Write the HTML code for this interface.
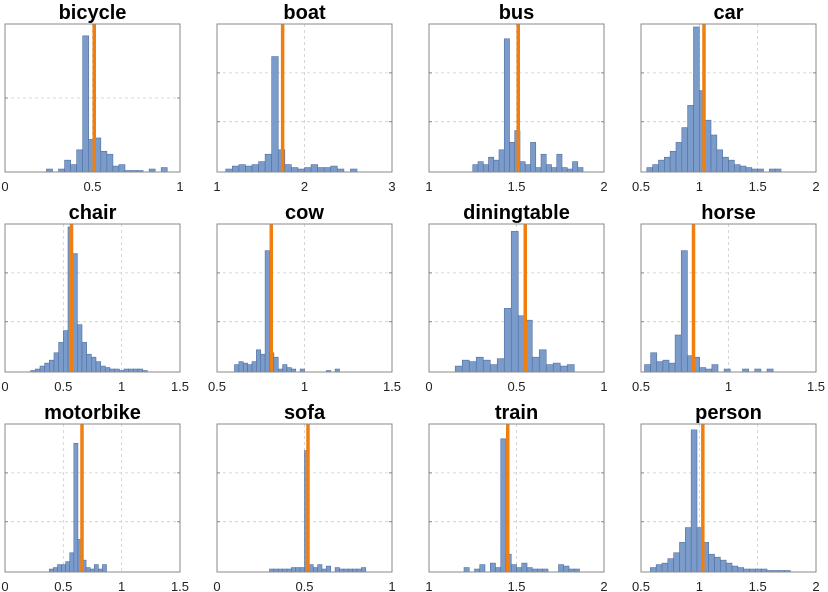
<!DOCTYPE html>
<html><head><meta charset="utf-8"><style>
body{margin:0;background:#fff;width:828px;height:592px;overflow:hidden}
svg{display:block}
text{font-family:"Liberation Sans",sans-serif}
</style></head><body>
<svg id="s" width="828" height="592" xmlns="http://www.w3.org/2000/svg"></svg>
<script>
var P=[
["bicycle",0,1,[0,0.5,1],0.51,[0.5],0.237,0.0345,[.02,0,.02,.08,.05,.15,.92,.22,.23,.14,.12,.04,.05,.01,.01,.01,0,.02,0,.03,0,0]],
["boat",1,3,[1,2,3],1.75,[0.33,0.66],1.1,0.075,[.02,.04,.05,.04,.05,.07,.12,.78,.15,.05,.03,.02,.03,.05,.03,.03,.04,.02,0,.02]],
["bus",1,2,[1,1.5,2],1.51,[0.33,0.66],1.25,0.03,[.05,.07,.05,.1,.08,.15,.9,.2,.28,.07,.05,.2,.03,.12,.05,.03,.12,.03,.02,.07,.03]],
["car",0.5,2,[0.5,1,1.5,2],1.04,[0.33,0.66],0.55,0.05,[.03,.05,.08,.1,.14,.2,.3,.45,.98,.55,.35,.25,.15,.1,.08,.05,.04,.03,.02,.02,0,.02,.02]],
["chair",0,1.5,[0,0.5,1,1.5],0.57,[0.33,0.66],0.22,0.04,[.01,.02,.04,.06,.08,.13,.2,.28,.98,.8,.32,.2,.12,.1,.07,.04,.03,.02,.02,.01,.02,.02,.02,.02,.01]],
["cow",0.5,1.5,[0.5,1,1.5],0.81,[0.33,0.66],0.6,0.025,[.05,.07,.06,.05,.07,.15,.12,.82,.13,.1,.02,.05,.03,.02,0,.02,0,0,0,0,0,.01,0,.02,0,0]],
["diningtable",0,1,[0,0.5,1],0.55,[0.33,0.66],0.15,0.04,[.04,.08,.07,.1,.08,.05,.09,.43,.95,.38,.35,.1,.15,.05,.06,.04,.05]],
["horse",0.5,1.5,[0.5,1,1.5],0.8,[0.33,0.66],0.52,0.035,[.05,.13,.07,.08,.06,.25,.82,.11,.1,.03,.02,.05,0,.02,0,0,.02,0,.02,0,.02]],
["motorbike",0,1.5,[0,0.5,1,1.5],0.66,[0.33,0.66],0.38,0.035,[.02,.03,.05,.05,.07,.13,.87,.22,.08,.03,.02,.05,.02,.05]],
["sofa",0,1,[0,0.5,1],0.52,[0.33,0.66],0.3,0.025,[.02,.02,.02,.02,.02,.03,.03,.03,.82,.05,.03,.05,.02,.04,0,.03,.02,.02,.02,.02,.02,.03]],
["train",1,2,[1,1.5,2],1.45,[0.33,0.66],1.2,0.03,[.03,0,.02,.05,0,.06,.03,.9,.12,.05,.03,.06,.03,.02,.02,.02,0,0,.05,.04,.02,.02]],
["person",0.5,2,[0.5,1,1.5,2],1.03,[0.33,0.66],0.58,0.05,[.03,.05,.06,.09,.13,.2,.3,.96,.3,.2,.12,.1,.08,.06,.04,.03,.02,.02,.02,.02,.01,.01,.01,.01]]
];
var h='',W=175,H=148;
P.forEach(function(p,i){
 var L=5+(i%4)*212,T=24+Math.floor(i/4)*200;
 var sx=function(v){return L+(v-p[1])/(p[2]-p[1])*W};
 h+='<text x="'+(L+W/2)+'" y="'+(T-5)+'" text-anchor="middle" font-size="20" font-weight="bold">'+p[0]+'</text>';
 p[3].forEach(function(t){var x=sx(t);
  if(x>L+1&&x<L+W-1)h+='<line x1="'+x+'" x2="'+x+'" y1="'+T+'" y2="'+(T+H)+'" stroke="#ccc" stroke-dasharray="3,3" stroke-width="0.8"/>';
  h+='<text x="'+x+'" y="'+(T+H+19)+'" text-anchor="middle" font-size="13" fill="#222">'+t+'</text>';});
 p[5].forEach(function(f){var y=T+H*f;h+='<line x1="'+L+'" x2="'+(L+W)+'" y1="'+y+'" y2="'+y+'" stroke="#ccc" stroke-dasharray="3,3" stroke-width="0.8"/><line x1="'+L+'" x2="'+(L+3)+'" y1="'+y+'" y2="'+y+'" stroke="#888"/><line x1="'+(L+W-3)+'" x2="'+(L+W)+'" y1="'+y+'" y2="'+y+'" stroke="#888"/>';});
 p[8].forEach(function(v,j){if(v<=0)return;var x0=sx(p[6]+j*p[7]),x1=sx(p[6]+(j+1)*p[7]);if(x1>L+W)return;var bh=v*H;
  h+='<rect x="'+x0+'" y="'+(T+H-bh)+'" width="'+(x1-x0)+'" height="'+bh+'" fill="#7b9ccb" stroke="#4f6f9f" stroke-width="0.6"/>';});
 var vx=sx(p[4]);
 h+='<line x1="'+vx+'" x2="'+vx+'" y1="'+T+'" y2="'+(T+H)+'" stroke="#f07f10" stroke-width="3.5"/>';
 h+='<rect x="'+L+'" y="'+T+'" width="'+W+'" height="'+H+'" fill="none" stroke="#888" stroke-width="1"/>';
});
document.getElementById('s').innerHTML=h;
</script>
</body></html>
